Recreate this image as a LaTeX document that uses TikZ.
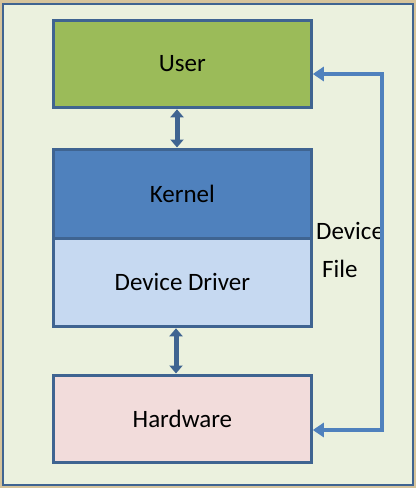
\documentclass[tikz,border=0pt]{standalone}
\usepackage{fontspec}
\setmainfont{Carlito}
\usetikzlibrary{arrows.meta}
\definecolor{frameblue}{HTML}{3F6491}
\definecolor{bgpage}{HTML}{EBF1DE}
\definecolor{tan}{HTML}{D6C49C}
\definecolor{usergreen}{HTML}{9BBB59}
\definecolor{kernelblue}{HTML}{4F81BD}
\definecolor{driverblue}{HTML}{C6D9F1}
\definecolor{hwpink}{HTML}{F2DCDB}
\definecolor{linkblue}{HTML}{4F81BD}
\tikzset{
  layerbox/.style={draw=frameblue, line width=2.8pt, minimum width=258pt, minimum height=87pt, inner sep=0pt, anchor=north west, font=\fontsize{25}{30}\selectfont},
  dblarrow/.style={draw=frameblue, line width=5pt, {Triangle[length=8pt,width=13pt]}-{Triangle[length=8pt,width=13pt]}, shorten <=0.5pt, shorten >=0.5pt},
  linkline/.style={draw=linkblue, line width=4pt},
  linkarrow/.style={draw=linkblue, line width=4pt, -{Triangle[length=11pt,width=14pt]}},
  lbl/.style={font=\fontsize{25}{30}\selectfont, inner sep=0pt, anchor=west}
}
\begin{document}
\begin{tikzpicture}[x=1pt,y=-1pt]
\useasboundingbox (0,0) rectangle (416,488);
\fill[tan] (0,0) rectangle (416,488);
\draw[frameblue, fill=bgpage, line width=2.2pt] (3,4) rectangle (413,485);
\node[layerbox, fill=usergreen] (user) at (52,19) {User};
\node[layerbox, fill=kernelblue, minimum height=89pt] (kernel) at (52,148) {Kernel};
\node[layerbox, fill=driverblue, minimum height=88pt] (driver) at (52,237) {Device Driver};
\node[layerbox, fill=hwpink] (hw) at (52,374) {Hardware};
\node[lbl] (devlbl) at (316,231) {Device};
\node[lbl] (filelbl) at (322,269) {File};
\coordinate (ctop) at (382,74);
\coordinate (cbot) at (382,430);
\draw[dblarrow] (user.south -| 177,0) -- (kernel.north -| 177,0);
\draw[dblarrow] (driver.south -| 176,0) -- (hw.north -| 176,0);
\draw[linkline] ([yshift=-2pt]ctop) -- ([yshift=2pt]cbot);
\draw[linkarrow] ([xshift=2pt]ctop) -- (ctop -| user.east);
\draw[linkarrow] ([xshift=2pt]cbot) -- (cbot -| hw.east);
\end{tikzpicture}
\end{document}
